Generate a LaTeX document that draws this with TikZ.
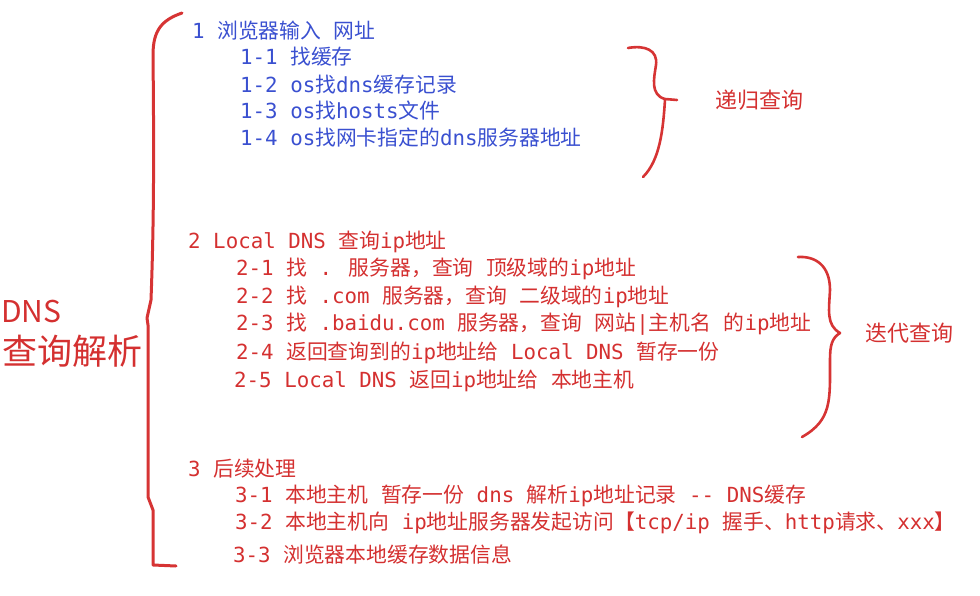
\documentclass[tikz,border=0pt]{standalone}
\usepackage{fontspec}
\setmainfont{DejaVu Sans Mono}[Ligatures=TeXOff]
\newfontfamily\zhfont{Noto Sans CJK SC}
% CJK characters switch to the CJK font, the rest stays mono
\newcount\zhcnt
\chardef\zhclass=7
\def\zhrange#1#2{\zhcnt=#1 \loop\XeTeXcharclass\zhcnt=\zhclass\advance\zhcnt by 1 \ifnum\zhcnt<#2 \repeat}
\zhrange{"3000}{"3040}
\zhrange{"4E00}{"A000}
\zhrange{"FF00}{"FFF0}
\XeTeXinterchartokenstate=1
\XeTeXinterchartoks 0 \zhclass = {\zhfont}
\XeTeXinterchartoks 4095 \zhclass = {\zhfont}
\XeTeXinterchartoks \zhclass 0 = {\rmfamily}
\XeTeXinterchartoks \zhclass 4095 = {\rmfamily}
\XeTeXinterchartoks 4095 0 = {\rmfamily}
\newcommand\zhplain{\XeTeXinterchartokenstate=0 \zhfont}
\definecolor{stepblue}{RGB}{58,80,208}
\definecolor{stepred}{RGB}{212,48,48}
\definecolor{penred}{RGB}{214,52,52}
\tikzset{
    line/.style = {anchor=base west,inner sep=0pt,font=\fontsize{20.8}{27}\selectfont},
    bline/.style = {line,text=stepblue},
    rline/.style = {line,text=stepred},
    note/.style = {anchor=base west,inner sep=0pt,text=stepred,
                   font=\zhplain\fontsize{22}{27}\selectfont},
    handbrace/.style = {draw=penred,line width=2.6pt,line cap=round,line join=round}
}
\begin{document}
\begin{tikzpicture}[x=1pt,y=-1pt]
    \useasboundingbox (0,0) rectangle (980,596);

    % title
    \node[note,font=\zhplain\fontsize{30}{36}\selectfont] (t0) at (1,322) {DNS};
    \node[note,font=\zhplain\fontsize{35}{40}\selectfont] (t1) at (2,364) {查询解析};

    % 1
    \node[bline] (1)  at (192,39)  {1 浏览器输入 网址};
    \node[bline] (11) at (240,65)  {1-1 找缓存};
    \node[bline] (12) at (240,93)  {1-2 os找dns缓存记录};
    \node[bline] (13) at (240,119) {1-3 os找hosts文件};
    \node[bline] (14) at (240,146) {1-4 os找网卡指定的dns服务器地址};
    \node[note]  (r1) at (715,109) {递归查询};

    % 2
    \node[rline] (2)  at (188,249) {2 Local DNS 查询ip地址};
    \node[rline] (21) at (236,276) {2-1 找 . 服务器，查询 顶级域的ip地址};
    \node[rline] (22) at (236,303) {2-2 找 .com 服务器，查询 二级域的ip地址};
    \node[rline] (23) at (236,330) {2-3 找 .baidu.com 服务器，查询 网站|主机名 的ip地址};
    \node[rline] (24) at (236,359) {2-4 返回查询到的ip地址给 Local DNS 暂存一份};
    \node[rline] (25) at (234,387) {2-5 Local DNS 返回ip地址给 本地主机};
    \node[note]  (r2) at (865,341) {迭代查询};

    % 3
    \node[rline] (3)  at (188,476) {3 后续处理};
    \node[rline] (31) at (235,502) {3-1 本地主机 暂存一份 dns 解析ip地址记录 -- DNS缓存};
    \node[rline] (32) at (235,529) {3-2 本地主机向 ip地址服务器发起访问【tcp/ip 握手、http请求、xxx】};
    \node[rline] (33) at (233,562) {3-3 浏览器本地缓存数据信息};

    % braces
    \draw[handbrace,line width=3pt] (182,13) .. controls (162,20) and (153,30) .. (153,55)
        .. controls (154,150) and (154,220) .. (151,300) -- (147,318) -- (148,325)
        -- (148,497) -- (153,510) -- (153,565) -- (176,566);
    \draw[handbrace] (628,48) .. controls (645,45) and (658,50) .. (656,65)
        .. controls (654,78) and (650,95) .. (665,99) -- (677,100);
    \draw[handbrace] (665,100) .. controls (663,130) and (660,160) .. (643,177);
    \draw[handbrace] (798,257) .. controls (815,256) and (830,265) .. (830,290)
        .. controls (829,310) and (826,325) .. (840,333)
        .. controls (832,338) and (830,345) .. (830,360)
        .. controls (830,400) and (832,420) .. (802,437);
\end{tikzpicture}
\end{document}
